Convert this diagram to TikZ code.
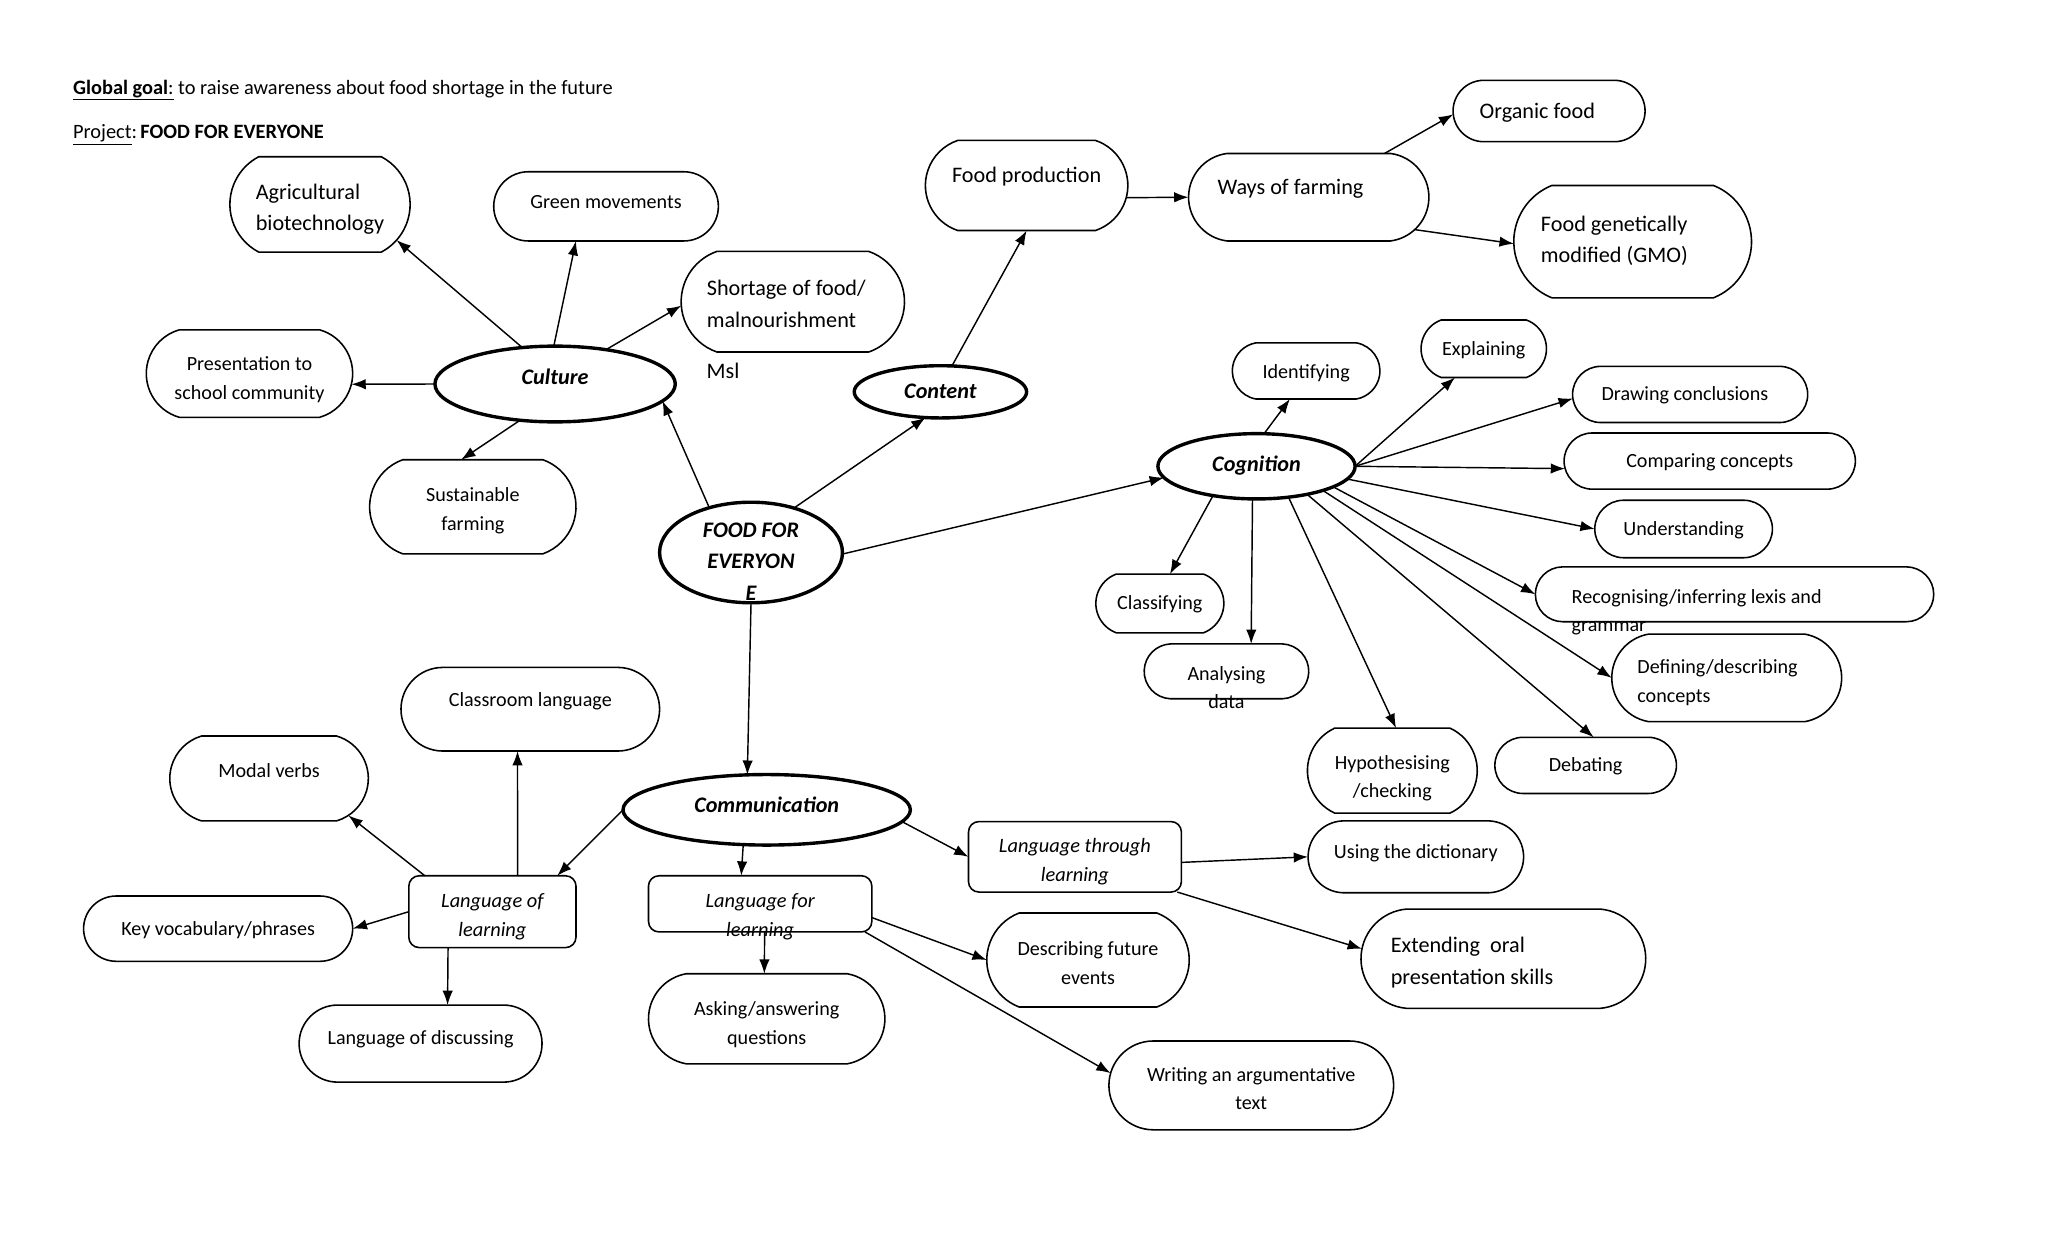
\documentclass[tikz,border=0pt]{standalone}
\usepackage{fontspec}
\setmainfont{Carlito}
\usetikzlibrary{shapes.geometric,shapes.misc,arrows.meta}
\newcommand\Tx[3]{\raisebox{\dimexpr#2pt-5pt\relax}[0pt][0pt]{\makebox[0pt]{\hspace*{#1pt}\hspace*{#1pt}#3}}}
\newcommand\Lc[1]{\begin{tabular}{@{}c@{}}#1\end{tabular}}
\newcommand\Ll[1]{\begin{tabular}{@{}l@{}}#1\end{tabular}}
\tikzset{
  every node/.style={inner sep=0pt, outer sep=0pt},
  ttl/.style={font=\fontsize{15.6}{22}\selectfont},
  sm/.style={font=\fontsize{15.4}{22}\selectfont},
  lg/.style={font=\fontsize{17}{24}\selectfont},
  smi/.style={font=\fontsize{15.6}{22}\selectfont\itshape},
  ovt/.style={font=\fontsize{17}{24}\selectfont\bfseries\itshape},
  bub/.style={draw, rounded rectangle, line width=1.2pt},
  oval/.style={draw, ellipse, line width=2.6pt, ovt},
  rbox/.style={draw, rectangle, rounded corners=8pt, line width=1.2pt, smi},
  arr/.style={-{Latex[length=11pt,width=8pt]}, line width=1.1pt},
}
\newcommand\bub[9][]{%
  \pgfmathsetmacro\arcl{4*atan(min(1,0.32*#5/#6))}%
  \node[bub, minimum width=#5pt, minimum height=#6pt, rounded rectangle arc length=\arcl, #1] (#2) at (#3,#4) {\Tx{#7}{#8}{#9}};}
\begin{document}
\begin{tikzpicture}[x=1pt,y=-1pt]
\fill[white] (0,0) rectangle (1568,952);
\useasboundingbox (0,0) rectangle (1568,952);
% titles
\node[ttl, anchor=west] (goal) at (56,69) {\underline{\textbf{Global goal}:} to raise awareness about food shortage in the future};
\node[ttl, anchor=west] (proj) at (56,103) {\underline{Project}:\,\textbf{FOOD FOR EVERYONE}};
% culture branch
\bub[lg]{agri}{245}{156.5}{138}{73}{0}{-2.5}{\Ll{Agricultural\\biotechnology}}
\bub[sm]{green}{464}{158}{172}{53}{0}{3}{Green movements}
\bub[lg]{short}{607}{231}{171}{77}{-5}{-2}{\Ll{Shortage of food/\\malnourishment}}
\node[lg, anchor=west] (msl) at (541,284) {Msl};
\bub[sm]{pres}{191}{286}{158}{67}{0}{-3}{\Lc{Presentation to\\school community}}
\node[oval, minimum width=184pt, minimum height=58pt] (cult) at (425,294) {\Tx{0}{5}{Culture}};
\bub[sm]{sust}{362}{388}{158}{72}{0}{-1}{\Lc{Sustainable\\farming}}
% content branch
\node[oval, minimum width=132pt, minimum height=40pt] (cont) at (720,300) {\Tx{0}{0}{Content}};
\bub[lg]{prod}{786}{142}{155}{69}{0}{7}{Food production}
\bub[lg]{ways}{1002}{151}{184}{67}{-14}{7}{Ways of farming}
\bub[lg]{org}{1186}{85}{147}{47}{-9}{-1}{Organic food}
\bub[lg]{gmo}{1250}{185}{182}{86}{-14}{1.5}{\Ll{Food genetically\\modified (GMO)}}
% centre
\node[oval, minimum width=140pt, minimum height=77pt] (food) at (575,423) {\Tx{0}{-7}{\Lc{FOOD FOR\\EVERYON\\E}}};
% cognition
\node[oval, minimum width=151pt, minimum height=50pt] (cog) at (962,357) {\Tx{0}{1}{Cognition}};
\bub[sm]{ident}{1000}{284}{113}{43}{0}{-1}{Identifying}
\bub[sm]{expl}{1136}{267}{96}{44}{0}{0}{Explaining}
\bub[sm]{drawc}{1294}{302}{180}{43}{-4}{0}{Drawing conclusions}
\bub[sm]{comp}{1309}{353}{223}{43}{0}{0}{Comparing concepts}
\bub[sm]{und}{1289}{405}{136}{44}{0}{0}{Understanding}
\bub[sm]{recog}{1328}{455}{305}{42}{-29}{-12}{\Ll{Recognising/inferring lexis and\\grammar}}
\bub[sm]{def}{1322}{519}{176}{67}{-7}{-2}{\Ll{Defining/describing\\concepts}}
\bub[sm]{deb}{1214}{586}{139}{43}{0}{0}{Debating}
\bub[sm]{hyp}{1066}{590}{130}{65}{0}{-4}{\Lc{Hypothesising\\/checking}}
\bub[sm]{anal}{939}{514}{126}{42}{0}{-12}{\Lc{Analysing\\data}}
\bub[sm]{class}{888}{462}{98}{45}{0}{0}{Classifying}
% communication
\node[oval, minimum width=220pt, minimum height=54pt] (comm) at (587,620) {\Tx{0}{3}{Communication}};
\bub[sm]{classroom}{406}{543}{198}{64}{0}{7}{Classroom language}
\bub[sm]{modal}{206}{596}{152}{65}{0}{6}{Modal verbs}
\node[rbox, minimum width=128pt, minimum height=55pt] (langof) at (377,698) {\Tx{0}{-2}{\Lc{Language of\\learning}}};
\bub[sm]{key}{167}{711}{206}{50}{0}{0}{Key vocabulary/phrases}
\bub[sm]{disc}{322}{799}{186}{59}{0}{4}{Language of discussing}
\node[rbox, minimum width=171pt, minimum height=43pt] (langfor) at (582,692) {\Tx{0}{-8}{\Lc{Language for\\learning}}};
\bub[sm]{ask}{587}{780}{181}{69}{0}{-3}{\Lc{Asking/answering\\questions}}
\node[rbox, minimum width=163pt, minimum height=54pt] (langthr) at (823,656) {\Tx{0}{-2}{\Lc{Language through\\learning}}};
\bub[sm]{desc}{833}{735}{155}{72}{0}{-2}{\Lc{Describing future\\events}}
\bub[sm]{dict}{1084}{656}{165}{55}{0}{4}{Using the dictionary}
\bub[lg]{ext}{1151}{734}{218}{76}{-24}{-2}{\Ll{Extending\ \ oral\\presentation skills}}
\bub[sm]{writ}{958}{831}{218}{68}{0}{-2}{\Lc{Writing an argumentative\\text}}
% connectors
\draw[arr] (cult.132) -- (agri.-25);
\draw[arr] (cult.92) -- (green.-131);
\draw[arr] (cult.34) -- (short.182);
\draw[arr] (cult.west) -- (pres.-6);
\draw[arr] (cult.-134) -- (sust.104);
\draw[arr] (food.133) -- (cult.-9);
\draw[arr] (food.46) -- (cont.-120);
\draw[arr] (cont.66) -- (prod.south);
\draw[arr] (prod.-7) -- (ways.west);
\draw[arr] (ways.30) -- (org.182);
\draw[arr] (ways.-17) -- (gmo.181);
\draw[arr] (food.-1) -- (cog.-173);
\draw[arr] (food.south) -- (comm.119);
\draw[arr] (cog.77) -- (ident.-120);
\draw[arr] (cog.east) -- (expl.-135);
\draw[arr] (cog.east) -- (drawc.-178);
\draw[arr] (cog.east) -- (comp.-177);
\draw[arr] (cog.-8) -- (und.west);
\draw[arr] (cog.-15) -- (recog.west);
\draw[arr] (cog.-20) -- (def.west);
\draw[arr] (cog.-29) -- (deb.74);
\draw[arr] (cog.-44) -- (hyp.85);
\draw[arr] (cog.-97) -- (anal.48);
\draw[arr] (cog.-146) -- (class.71);
\draw[arr] (comm.west) -- (langof.29);
\draw[arr] (comm.-124) -- (langfor.124);
\draw[arr] (comm.-5) -- (langthr.west);
\draw[arr] (langof.152) -- (modal.-25);
\draw[arr] (langof.55) -- (classroom.-107);
\draw[arr] (langof.west) -- (key.east);
\draw[arr] (langof.-141) -- (disc.55);
\draw[arr] (langfor.-81) -- (ask.93);
\draw[arr] (langfor.-7) -- (desc.west);
\draw[arr] (langfor.-15) -- (writ.175);
\draw[arr] (langthr.-3) -- (dict.west);
\draw[arr] (langthr.-19) -- (ext.176);
\end{tikzpicture}
\end{document}
